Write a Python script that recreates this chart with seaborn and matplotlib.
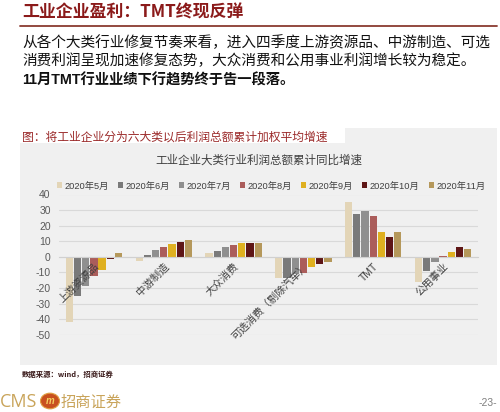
import matplotlib
matplotlib.use('Agg')
import matplotlib.pyplot as plt
import seaborn as sns
import pandas as pd
from matplotlib.patches import Rectangle, Circle
from matplotlib.lines import Line2D

# ---------------- data ----------------
categories = ['上游资源品', '中游制造', '大众消费', '可选消费（剔除汽车）', 'TMT', '公用事业']
months = ['2020年5月', '2020年6月', '2020年7月', '2020年8月', '2020年9月', '2020年10月', '2020年11月']
m05 = [-41.6, -2.6, 2.4, -13.4, 35.0, -16.0]
m06 = [-25.2, 0.9, 3.9, -13.8, 27.6, -8.8]
m07 = [-19.0, 4.5, 6.0, -11.0, 29.1, -3.2]
m08 = [-12.5, 6.0, 7.6, -10.6, 26.5, 0.6]
m09 = [-8.4, 8.4, 8.9, -6.7, 15.7, 2.8]
m10 = [-1.1, 9.7, 9.0, -4.5, 12.7, 6.0]
m11 = [2.2, 10.8, 9.0, -3.5, 16.0, 5.0]
yticks = [40, 30, 20, 10, 0, -10, -20, -30, -40, -50]
colors = ['#ead7b0', '#7a7a7a', '#8f8f8f', '#b8504e', '#ffc000', '#6a0a0a', '#c49d4c']

series = [m05, m06, m07, m08, m09, m10, m11]
rows = []
for mo, vals in zip(months, series):
    for c, v in zip(categories, vals):
        rows.append({'cat': c, 'month': mo, 'val': v})
df = pd.DataFrame(rows)

sns.set_style('white')
plt.rcParams['font.family'] = ['Liberation Sans', 'Noto Sans CJK SC']
plt.rcParams['axes.unicode_minus'] = False

W, H = 500, 412
fig = plt.figure(figsize=(W / 100, H / 100), dpi=100)
fig.patch.set_facecolor('white')

def fx(x):
    return x / W

def fy(y):
    return 1 - y / H

# gray chart panel
fig.add_artist(Rectangle((fx(20), fy(365)), fx(497) - fx(20), fy(128) - fy(365),
                         transform=fig.transFigure, facecolor='#f0f0f0', edgecolor='none', zorder=0))
fig.add_artist(Rectangle((fx(20), fy(143)), fx(345) - fx(20), fy(128) - fy(143),
                         transform=fig.transFigure, facecolor='white', edgecolor='none', zorder=0.5))

# header
fig.text(fx(22), fy(13), '工业企业盈利：TMT终现反弹', fontsize=12.2, fontweight='bold',
         color='#8b1a1a', va='center', ha='left', family=['Noto Sans CJK SC'])
fig.add_artist(Line2D([fx(20), fx(497)], [fy(25.5), fy(25.5)], transform=fig.transFigure,
                      color='#8a3a30', linewidth=1.3))
fig.text(fx(22), fy(43), '从各个大类行业修复节奏来看，进入四季度上游资源品、中游制造、可选',
         fontsize=10.55, color='#111111', va='center', ha='left', family=['Noto Sans CJK SC'])
fig.text(fx(22), fy(61), '消费利润呈现加速修复态势，大众消费和公用事业利润增长较为稳定。',
         fontsize=10.55, color='#111111', va='center', ha='left', family=['Noto Sans CJK SC'])
fig.text(fx(22), fy(80), '11月TMT行业业绩下行趋势终于告一段落。',
         fontsize=10.3, fontweight='bold', color='#111111', va='center', ha='left')

# caption and chart title
fig.text(fx(22), fy(137), '图：将工业企业分为六大类以后利润总额累计加权平均增速',
         fontsize=8.5, color='#9b2a2a', va='center', ha='left', family=['Noto Sans CJK SC'], zorder=2)
fig.text(fx(259), fy(160), '工业企业大类行业利润总额累计同比增速',
         fontsize=8.3, color='#404040', va='center', ha='center', family=['Noto Sans CJK SC'], zorder=2)

# axes
ax = fig.add_axes([fx(59), fy(334.7), fx(478) - fx(59), fy(194.5) - fy(334.7)])
ax.set_facecolor('none')
sns.barplot(data=df, x='cat', y='val', hue='month', palette=colors, order=categories,
            hue_order=months, width=0.82, gap=0.12, linewidth=0, ax=ax, legend=True, errorbar=None)
ax.set_ylim(-50, 40)
ax.set_xlim(-0.5, len(categories) - 0.5)
ax.set_yticks(yticks)
ax.set_yticklabels([str(t) for t in yticks], fontsize=7.5, color='#595959')
ax.yaxis.grid(True, color='#d9d9d9', linewidth=0.8)
ax.set_axisbelow(True)
for s in ['top', 'right', 'left']:
    ax.spines[s].set_visible(False)
ax.spines['bottom'].set_position(('data', 0))
ax.spines['bottom'].set_color('#d0d0d0')
ax.spines['bottom'].set_linewidth(0.8)
ax.tick_params(axis='both', length=0)
ax.tick_params(axis='y', pad=6)
ax.tick_params(axis='x', pad=3)
ax.set_xticks(range(len(categories)))
ax.set_xticklabels(categories, rotation=45, ha='right', rotation_mode='anchor',
                   fontsize=7.5, color='#404040')
ax.xaxis.set_zorder(5)
ax.set_xlabel('')
ax.set_ylabel('')

handles, labels = ax.get_legend_handles_labels()
ax.get_legend().remove()
fig.legend(handles, labels, loc='center', bbox_to_anchor=(fx(271), fy(186)), ncol=7, frameon=False,
           fontsize=6.7, handlelength=0.55, handleheight=0.55, handletextpad=0.25,
           columnspacing=1.0, labelcolor='#404040')

# source
fig.text(fx(22), fy(374.5), '数据来源：wind，招商证券', fontsize=5.3, fontweight='bold',
         color='#3a1a1a', va='center', ha='left', family=['Noto Sans CJK SC'])

# footer
fig.text(fx(0), fy(402), 'CMS', fontsize=13, color='#c9a45a', va='center', ha='left',
         family=['Open Sans'])
fig.add_artist(Circle((fx(50), fy(401)), 0.019, transform=fig.transFigure,
                      facecolor='#c8501e', edgecolor='#e0a040', linewidth=0.8))
fig.text(fx(50), fy(401.5), 'm', fontsize=7, color='#f6d060', fontstyle='italic',
         fontweight='bold', va='center', ha='center')
fig.text(fx(61), fy(402), '招商证券', fontsize=11, color='#c9a45a', va='center', ha='left',
         family=['Noto Sans CJK SC'])
fig.text(fx(497), fy(403), '-23-', fontsize=7.5, color='#7f7f7f', va='center', ha='right')

fig.savefig('out.png', dpi=100)
